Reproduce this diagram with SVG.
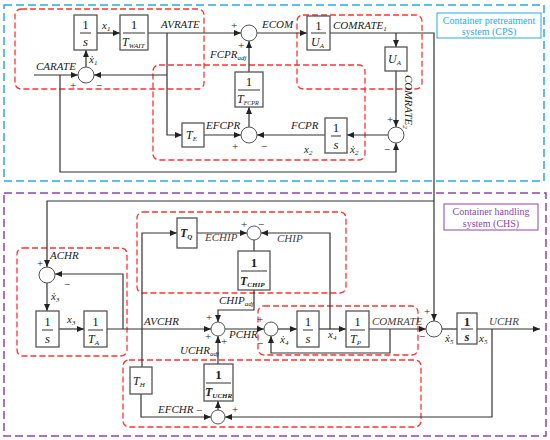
<svg xmlns="http://www.w3.org/2000/svg" width="550" height="440" viewBox="0 0 550 440">
<defs>
<marker id="a" markerWidth="7" markerHeight="6" refX="7" refY="3" orient="auto" markerUnits="userSpaceOnUse"><path d="M0,0 L7,3 L0,6 z" fill="#222"/></marker>
<style>
.ln{fill:none;stroke:#333;stroke-width:1.2}
.ar{fill:none;stroke:#333;stroke-width:1.2;marker-end:url(#a)}
.blk{fill:#fff;stroke:#555;stroke-width:1.3}
.sum{fill:#fff;stroke:#555;stroke-width:1}
.red{fill:none;stroke:#f33;stroke-width:1.3;stroke-dasharray:6 3}
.blue{fill:none;stroke:#29abe2;stroke-width:1.5;stroke-dasharray:8 4}
.pur{fill:none;stroke:#8e44ad;stroke-width:1.5;stroke-dasharray:8 4}
text{font-family:"Liberation Serif","DejaVu Serif",serif;fill:#222}
.lb{font-size:11px;font-style:italic}
.sg{font-size:11px}
.bt{font-size:13px;text-anchor:middle}
.bb{font-size:13px;text-anchor:middle;font-weight:bold}
.sub{font-size:7px}
</style>
</defs>
<!-- system frames -->
<rect class="blue" x="4" y="5" width="540" height="176"/>
<rect class="pur" x="4" y="193" width="542" height="243"/>
<g id="cps-label"><rect x="437" y="13" width="104" height="25" fill="none" stroke="#29abe2" stroke-width="1"/>
<text x="489" y="24" font-size="10" text-anchor="middle" style="fill:#29abe2">Container pretreatment</text>
<text x="489" y="35" font-size="10" text-anchor="middle" style="fill:#29abe2">system (CPS)</text></g>
<g id="chs-label"><rect x="444" y="204" width="94" height="26" fill="none" stroke="#8e44ad" stroke-width="1"/>
<text x="491" y="215" font-size="10" text-anchor="middle" style="fill:#8e44ad">Container handling</text>
<text x="491" y="227" font-size="10" text-anchor="middle" style="fill:#8e44ad">system (CHS)</text></g>
<!-- red dashed groups -->
<rect class="red" x="15" y="9" width="189" height="80" rx="6"/>
<rect class="red" x="153" y="65" width="212" height="95" rx="6"/>
<rect class="red" x="297" y="15" width="125" height="74" rx="6"/>
<rect class="red" x="17" y="248" width="110" height="108" rx="6"/>
<rect class="red" x="137" y="212" width="209" height="81" rx="6"/>
<rect class="red" x="258" y="306" width="160" height="49" rx="6"/>
<rect class="red" x="123" y="360" width="298" height="67" rx="6"/>
<!-- connectors -->
<g id="connectors">
<path class="ar" d="M97,33 H120"/>
<path class="ar" d="M148,33 H241"/>
<path class="ar" d="M167,33 V135 H182"/>
<path class="ar" d="M167,75 H94"/>
<path class="ar" d="M34,75 H78"/>
<path class="ar" d="M86,67 V50"/>
<path class="ar" d="M60,75 V172 H396 V143"/>
<path class="ar" d="M204,135 H241"/>
<path class="ar" d="M249,127 V107"/>
<path class="ar" d="M249,72 V41"/>
<path class="ar" d="M257,33 H307"/>
<path class="ar" d="M330,33 H434 V321"/>
<path class="ar" d="M396,33 V47"/>
<path class="ar" d="M396,71 V127"/>
<path class="ar" d="M388,135 H347"/>
<path class="ar" d="M325,135 H257"/>
<path class="ar" d="M434,201 H47 V267"/>
<path class="ar" d="M47,283 V311"/>
<path class="ar" d="M59,329 H84"/>
<path class="ar" d="M107,329 H211"/>
<path class="ar" d="M123,329 V274 H55"/>
<path class="ar" d="M142,329 V233 H177"/>
<path class="ln" d="M142,329 V367"/>
<path class="ar" d="M197,233 H247"/>
<path class="ln" d="M254,240 V251"/>
<path class="ar" d="M254,290 V310 H218 V322"/>
<path class="ar" d="M330,329 V233 H261"/>
<path class="ar" d="M225,329 H264"/>
<path class="ar" d="M278,329 H297"/>
<path class="ar" d="M319,329 H346"/>
<path class="ar" d="M369,329 H426"/>
<path class="ar" d="M390,329 V353 H271 V336"/>
<path class="ln" d="M442,329 H457"/>
<path class="ar" d="M477,329 H540"/>
<path class="ar" d="M492,329 V417 H225"/>
<path class="ar" d="M141,394 V417 H211"/>
<path class="ar" d="M218,410 V401"/>
<path class="ar" d="M218,364 V336"/>
</g>
<!-- CPS blocks -->
<g id="int1"><rect class="blk" x="74" y="15" width="23" height="35"/><text class="bt" x="85.5" y="29">1</text><line x1="80" y1="33" x2="91" y2="33" stroke="#333"/><text class="bt" x="85.5" y="46" font-style="italic">s</text></g>
<g id="twait"><rect class="blk" x="120" y="15" width="28" height="35"/><text class="bt" x="134" y="29">1</text><line x1="123" y1="33" x2="145" y2="33" stroke="#333"/><text x="122" y="46" font-size="12" font-style="italic">T<tspan class="sub" dy="2">WAIT</tspan></text></g>
<g id="sum1"><circle class="sum" cx="86" cy="75" r="8"/></g>
<g id="sumEcom"><circle class="sum" cx="249" cy="33" r="8"/></g>
<g id="ua1"><rect class="blk" x="307" y="16" width="23" height="34"/><text class="bt" x="318.5" y="30">1</text><line x1="311" y1="33" x2="326" y2="33" stroke="#333"/><text x="311" y="46" font-size="12" font-style="italic">U<tspan class="sub" dy="2">A</tspan></text></g>
<g id="ua2"><rect class="blk" x="385" y="47" width="22" height="24"/><text x="388" y="63" font-size="12" font-style="italic">U<tspan class="sub" dy="2">A</tspan></text></g>
<g id="sum3"><circle class="sum" cx="396" cy="135" r="8"/></g>
<g id="int2"><rect class="blk" x="325" y="118" width="22" height="35"/><text class="bt" x="336" y="132">1</text><line x1="331" y1="136" x2="341" y2="136" stroke="#333"/><text class="bt" x="336" y="149" font-style="italic">s</text></g>
<g id="sum2"><circle class="sum" cx="249" cy="135" r="8"/></g>
<g id="te"><rect class="blk" x="182" y="123" width="22" height="24"/><text x="186" y="139" font-size="12" font-style="italic">T<tspan class="sub" dy="2">E</tspan></text></g>
<g id="tfcpr"><rect class="blk" x="235" y="72" width="28" height="35"/><text class="bt" x="249" y="86">1</text><line x1="238" y1="90" x2="260" y2="90" stroke="#333"/><text x="237" y="103" font-size="12" font-style="italic">T<tspan font-size="6" dy="2">FCPR</tspan></text></g>
<!-- CPS labels -->
<text class="lb" x="36" y="70">CARATE</text>
<text class="sg" x="70" y="89">+</text><text class="sg" x="96" y="89">−</text>
<text class="lb" x="102" y="29">x<tspan class="sub" dy="2">1</tspan></text>
<text class="lb" x="89" y="63">ẋ<tspan class="sub" dy="2">1</tspan></text>
<text class="lb" x="161" y="28">AVRATE</text>
<text class="sg" x="231" y="29">+</text><text class="sg" x="238" y="49">+</text>
<text class="lb" x="210" y="58">FCPR<tspan class="sub" dy="2">adj</tspan></text>
<text class="lb" x="262" y="28">ECOM</text>
<text class="lb" x="333" y="29">COMRATE<tspan class="sub" dy="2">1</tspan></text>
<text class="lb" transform="translate(405,75) rotate(90)">COMRATE<tspan class="sub" dy="2">2</tspan></text>
<text class="sg" x="387" y="123">+</text><text class="sg" x="384" y="153">−</text>
<text class="lb" x="291" y="129">FCPR</text>
<text class="lb" x="304" y="153">x<tspan class="sub" dy="2">2</tspan></text>
<text class="lb" x="350" y="153">ẋ<tspan class="sub" dy="2">2</tspan></text>
<text class="lb" x="206" y="129">EFCPR</text>
<text class="sg" x="232" y="150">+</text><text class="sg" x="261" y="150">−</text>
<!-- CHS blocks -->
<g id="sum4"><circle class="sum" cx="47" cy="275" r="8"/></g>
<g id="int3"><rect class="blk" x="36" y="311" width="23" height="36"/><text class="bt" x="47.5" y="326">1</text><line x1="42" y1="330" x2="53" y2="330" stroke="#333"/><text class="bt" x="47.5" y="343" font-style="italic">s</text></g>
<g id="ta"><rect class="blk" x="84" y="311" width="23" height="36"/><text class="bt" x="95.5" y="326">1</text><line x1="88" y1="330" x2="103" y2="330" stroke="#333"/><text x="88" y="343" font-size="12" font-style="italic">T<tspan class="sub" dy="2">A</tspan></text></g>
<g id="sum5"><circle class="sum" cx="218" cy="329" r="7"/></g>
<g id="tq"><rect class="blk" x="177" y="218" width="20" height="30"/><text x="180" y="237" font-size="12" font-style="italic" font-weight="bold">T<tspan class="sub" dy="2">Q</tspan></text></g>
<g id="sum6"><circle class="sum" cx="254" cy="233" r="7"/></g>
<g id="tchip"><rect class="blk" x="238" y="251" width="32" height="39"/><text class="bb" x="254" y="267">1</text><line x1="241" y1="271" x2="267" y2="271" stroke="#333"/><text x="240" y="285" font-size="12" font-style="italic" font-weight="bold">T<tspan class="sub" dy="2">CHIP</tspan></text></g>
<g id="sum7"><circle class="sum" cx="271" cy="329" r="7"/></g>
<g id="int4"><rect class="blk" x="297" y="311" width="22" height="36"/><text class="bt" x="308" y="326">1</text><line x1="303" y1="330" x2="313" y2="330" stroke="#333"/><text class="bt" x="308" y="343" font-style="italic">s</text></g>
<g id="tp"><rect class="blk" x="346" y="311" width="23" height="36"/><text class="bt" x="357.5" y="326">1</text><line x1="350" y1="330" x2="365" y2="330" stroke="#333"/><text x="350" y="343" font-size="12" font-style="italic">T<tspan class="sub" dy="2">P</tspan></text></g>
<g id="sum8"><circle class="sum" cx="434" cy="329" r="8"/></g>
<g id="int5"><rect class="blk" x="457" y="313" width="20" height="31"/><text class="bb" x="467" y="326">1</text><line x1="461" y1="329" x2="473" y2="329" stroke="#333"/><text class="bb" x="467" y="341" font-style="italic">s</text></g>
<g id="th"><rect class="blk" x="130" y="367" width="22" height="27"/><text x="133" y="385" font-size="12" font-style="italic">T<tspan class="sub" dy="2">H</tspan></text></g>
<g id="tuchr"><rect class="blk" x="204" y="364" width="29" height="37"/><text class="bb" x="218.5" y="379">1</text><line x1="206" y1="383" x2="231" y2="383" stroke="#333"/><text x="205" y="396" font-size="12" font-style="italic" font-weight="bold">T<tspan class="sub" dy="2">UCHR</tspan></text></g>
<g id="sum9"><circle class="sum" cx="218" cy="417" r="7"/></g>
<!-- CHS labels -->
<text class="lb" x="50" y="259">ACHR</text>
<text class="sg" x="37" y="267">+</text><text class="sg" x="64" y="288">−</text>
<text class="lb" x="51" y="300">ẋ<tspan class="sub" dy="2">3</tspan></text>
<text class="lb" x="67" y="323">x<tspan class="sub" dy="2">3</tspan></text>
<text class="lb" x="144" y="325">AVCHR</text>
<text class="lb" x="205" y="241" style="fill:#444">ECHIP</text>
<text class="lb" x="277" y="242" style="fill:#444">CHIP</text>
<text class="sg" x="241" y="228">+</text><text class="sg" x="258" y="228">−</text>
<text class="lb" x="219" y="304">CHIP<tspan class="sub" dy="2">adj</tspan></text>
<text class="sg" x="206" y="321">+</text><text class="sg" x="205" y="340">+</text><text class="sg" x="221" y="345">+</text>
<text class="lb" x="229" y="338">PCHR</text>
<text class="lb" x="180" y="354">UCHR<tspan class="sub" dy="2">adj</tspan></text>
<text class="sg" x="257" y="323">+</text><text class="sg" x="257" y="347">−</text>
<text class="lb" x="280" y="343">ẋ<tspan class="sub" dy="2">4</tspan></text>
<text class="lb" x="328" y="338">x<tspan class="sub" dy="2">4</tspan></text>
<text class="lb" x="372" y="325" style="fill:#444">COMRATE</text>
<text class="sg" x="424" y="315">+</text><text class="sg" x="419" y="340">−</text>
<text class="lb" x="445" y="342">ẋ<tspan class="sub" dy="2">5</tspan></text>
<text class="lb" x="479" y="342">x<tspan class="sub" dy="2">5</tspan></text>
<text class="lb" x="489" y="325" style="fill:#444">UCHR</text>
<text class="lb" x="158" y="413">EFCHR</text>
<text class="sg" x="196" y="414">−</text><text class="sg" x="232" y="413">+</text>
</svg>
